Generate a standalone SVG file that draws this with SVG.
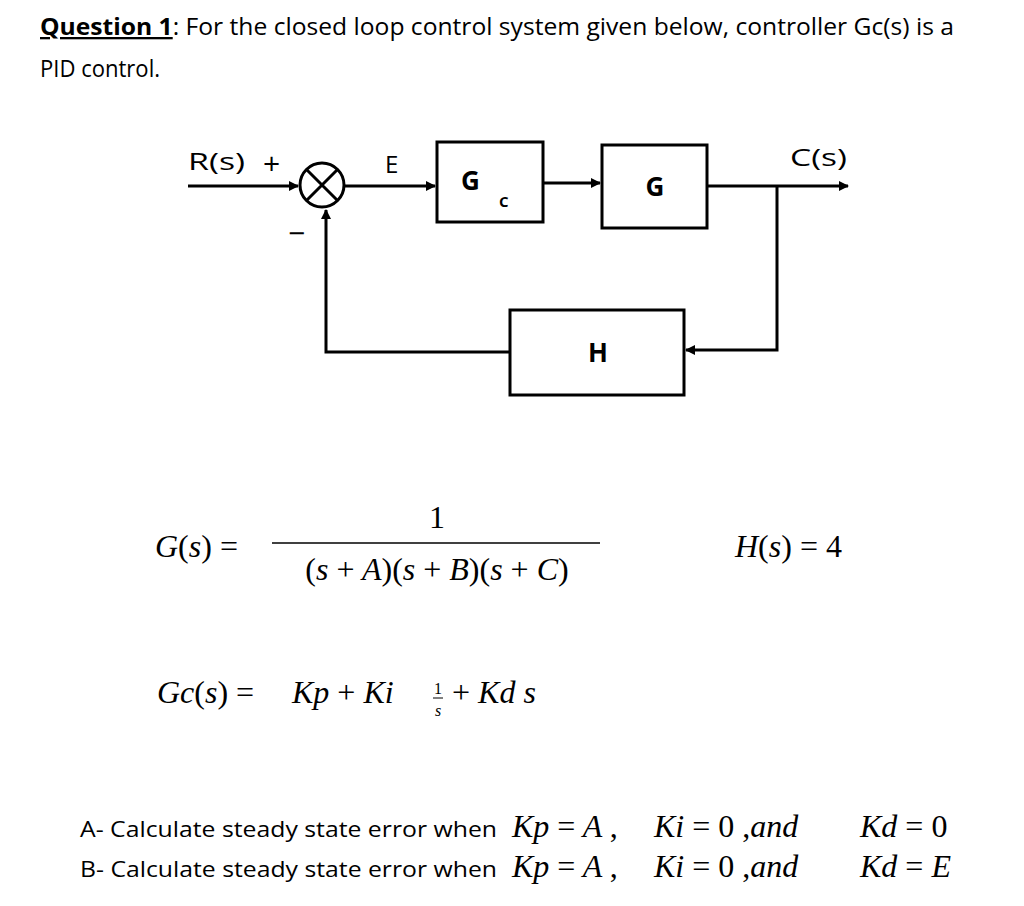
<svg xmlns="http://www.w3.org/2000/svg" width="1024" height="906" viewBox="0 0 1024 906">
<defs>
<marker id="ah" markerWidth="10" markerHeight="10" refX="9" refY="5" orient="auto" markerUnits="userSpaceOnUse"><path d="M0,0 L10,5 L0,10 z" fill="#000"/></marker>
<style>
.s{font-family:"Open Sans","Liberation Sans",sans-serif;fill:#000}
.m{font-family:"Liberation Serif",serif;font-style:italic;font-size:32px;fill:#000}
.u{font-family:"Liberation Serif",serif;font-size:32px;fill:#000}
.f{font-size:16px}
.n{font-style:normal}
.ln{stroke:#000;stroke-width:3;fill:none}
.bx{stroke:#000;stroke-width:3;fill:#fff}
</style>
</defs>
<rect width="1024" height="906" fill="#fff"/>
<text class="s" x="40" y="35" font-size="23" textLength="914" lengthAdjust="spacingAndGlyphs"><tspan font-weight="bold" text-decoration="underline">Question 1</tspan>: For the closed loop control system given below, controller Gc(s) is a</text>
<text class="s" x="40" y="77" font-size="23" textLength="120" lengthAdjust="spacingAndGlyphs">PID control.</text>
<g id="connectors">
<path class="ln" d="M188,186 H298" marker-end="url(#ah)"/>
<path class="ln" d="M344,186 H435" marker-end="url(#ah)"/>
<path class="ln" d="M543,183 H600" marker-end="url(#ah)"/>
<path class="ln" d="M707,186 H848" marker-end="url(#ah)"/>
<path class="ln" d="M777,186 V350 H686" marker-end="url(#ah)"/>
<path class="ln" d="M510,352 H326 V210" marker-end="url(#ah)"/>
</g>
<g id="sum">
<circle cx="322" cy="185" r="22" fill="#fff" stroke="#000" stroke-width="3"/>
<path class="ln" d="M306,169 L338,201 M338,169 L306,201"/>
</g>
<text class="s" x="188" y="170" font-size="24" textLength="57" lengthAdjust="spacingAndGlyphs">R(s)</text>
<text class="s" x="263" y="174" font-size="30">+</text>
<text class="s" x="288" y="244" font-size="30">−</text>
<text class="s" x="385" y="173" font-size="24">E</text>
<text class="s" x="790" y="166" font-size="24" textLength="57" lengthAdjust="spacingAndGlyphs">C(s)</text>
<g id="Gc"><rect class="bx" x="437" y="142" width="106" height="80"/><text class="s" x="461" y="190" font-size="26" font-weight="bold">G</text><text class="s" x="499" y="207" font-size="15" font-weight="bold">C</text></g>
<g id="G"><rect class="bx" x="602" y="145" width="105" height="83"/><text class="s" x="655" y="196" font-size="26" font-weight="bold" text-anchor="middle">G</text></g>
<g id="H"><rect class="bx" x="510" y="310" width="174" height="85"/><text class="s" x="598" y="362" font-size="26" font-weight="bold" text-anchor="middle">H</text></g>
<text class="m" x="155" y="557">G<tspan class="n">(</tspan>s<tspan class="n">) =</tspan></text>
<text class="u" x="437" y="528" text-anchor="middle">1</text>
<line x1="272" y1="543" x2="600" y2="543" stroke="#000" stroke-width="1.5"/>
<text class="m" x="437" y="580" text-anchor="middle"><tspan class="n">(</tspan>s <tspan class="n">+</tspan> A<tspan class="n">)(</tspan>s <tspan class="n">+</tspan> B<tspan class="n">)(</tspan>s <tspan class="n">+</tspan> C<tspan class="n">)</tspan></text>
<text class="m" x="735" y="557">H<tspan class="n">(</tspan>s<tspan class="n">) = 4</tspan></text>
<text class="m" x="157" y="703">Gc<tspan class="n">(</tspan>s<tspan class="n">) =</tspan></text>
<text class="m" x="292" y="703">Kp <tspan class="n">+</tspan> Ki</text>
<text class="u f" x="438" y="694" text-anchor="middle">1</text>
<line x1="433" y1="698" x2="443" y2="698" stroke="#000" stroke-width="1"/>
<text class="m f" x="438" y="716" text-anchor="middle">s</text>
<text class="m" x="452" y="703"><tspan class="n">+</tspan> Kd s</text>
<text class="s" x="80" y="837" font-size="22" textLength="417" lengthAdjust="spacingAndGlyphs">A- Calculate steady state error when</text>
<text class="m" x="512" y="837">Kp <tspan class="n">=</tspan> A <tspan class="n">,</tspan></text>
<text class="m" x="654" y="837">Ki <tspan class="n">= 0 ,</tspan>and</text>
<text class="m" x="860" y="837">Kd <tspan class="n">= 0</tspan></text>
<text class="s" x="80" y="877" font-size="22" textLength="417" lengthAdjust="spacingAndGlyphs">B- Calculate steady state error when</text>
<text class="m" x="512" y="877">Kp <tspan class="n">=</tspan> A <tspan class="n">,</tspan></text>
<text class="m" x="654" y="877">Ki <tspan class="n">= 0 ,</tspan>and</text>
<text class="m" x="860" y="877">Kd <tspan class="n">=</tspan> E</text>
</svg>
